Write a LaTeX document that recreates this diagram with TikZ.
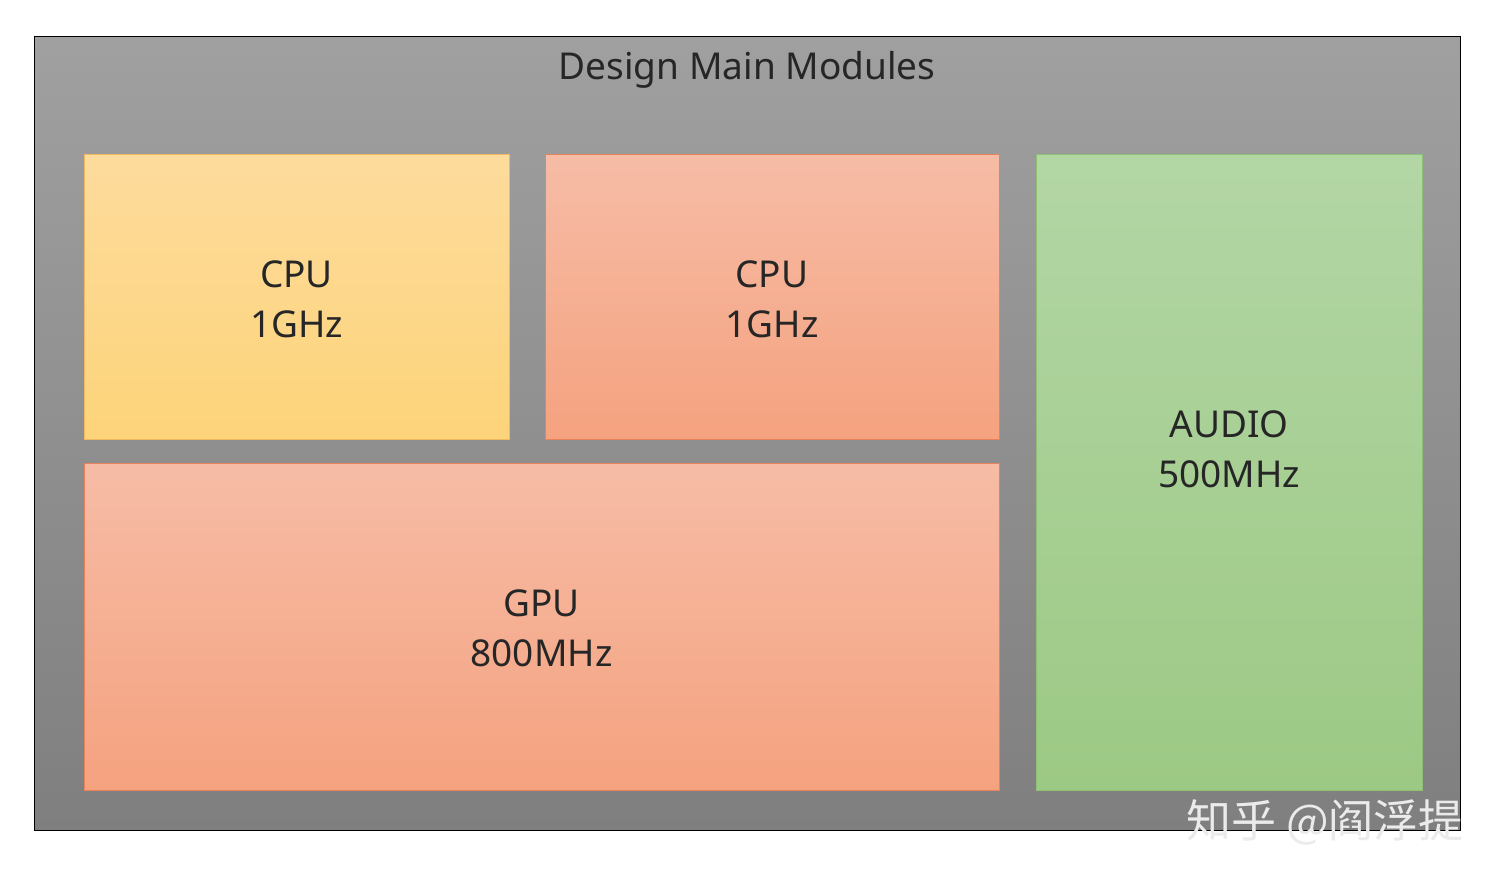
\documentclass[tikz,border=0pt]{standalone}
\usepackage{fontspec}
\setmainfont{Noto Sans}
\newfontfamily\cjk{Noto Sans CJK SC}
\begin{document}
\begin{tikzpicture}[x=1pt,y=-1pt,
  lbl/.style={font=\fontsize{37}{50}\selectfont, align=center, text=black!85},
  yel/.style={top color=yellow1, bottom color=yellow2, draw=yellowB, line width=1pt},
  sal/.style={top color=salmon1, bottom color=salmon2, draw=salmonB, line width=1pt},
  grn/.style={top color=green1, bottom color=green2, draw=greenB, line width=1pt}]
\definecolor{yellow1}{HTML}{FDDB9C}\definecolor{yellow2}{HTML}{FDD47A}\definecolor{yellowB}{HTML}{F0B860}
\definecolor{salmon1}{HTML}{F6BCA6}\definecolor{salmon2}{HTML}{F5A27F}\definecolor{salmonB}{HTML}{E8825A}
\definecolor{green1}{HTML}{B3D6A5}\definecolor{green2}{HTML}{9CC984}\definecolor{greenB}{HTML}{8DBF74}
\definecolor{gray1}{HTML}{A0A0A0}\definecolor{gray2}{HTML}{7F7F7F}
\useasboundingbox[fill=white] (0,0) rectangle (1503,885);
\draw[top color=gray1, bottom color=gray2, draw=black, line width=1pt] (34,37) rectangle (1460,830);
\node[lbl, font=\fontsize{37}{40}\selectfont] (title) at (747,70) {Design Main Modules};
\draw[yel] (84,155) rectangle (509,439);
\node[lbl] (cpu1) at (296.5,299) {CPU\\1GHz};
\draw[sal] (545,155) rectangle (999,439);
\node[lbl] (cpu2) at (772,299) {CPU\\1GHz};
\draw[sal] (84,463) rectangle (999,790);
\node[lbl] (gpu) at (541.5,628) {GPU\\800MHz};
\draw[grn] (1036,155) rectangle (1422,790);
\node[lbl] (audio) at (1229,449) {AUDIO\\500MHz};
\node[font=\cjk\fontsize{45}{48}\selectfont, text=white!92!black] (wm) at (1325,822) {知乎 @阎浮提};
\end{tikzpicture}
\end{document}
